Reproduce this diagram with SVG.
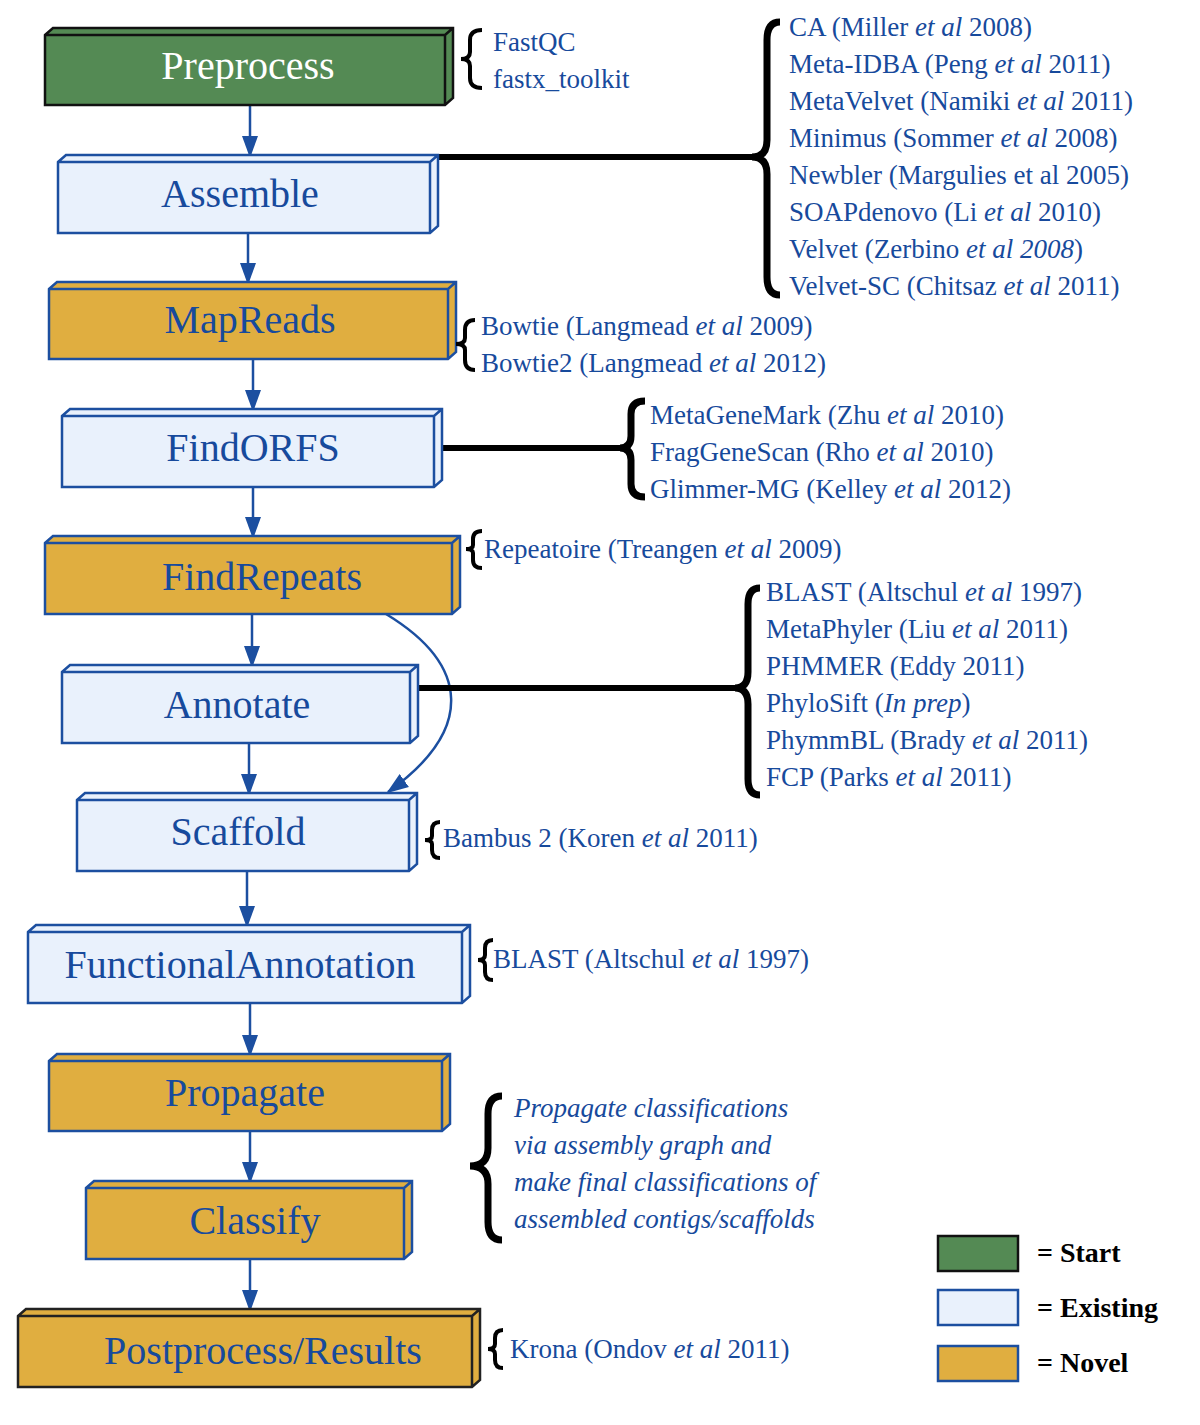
<svg xmlns="http://www.w3.org/2000/svg" width="1200" height="1425" viewBox="0 0 1200 1425">
<style>
.f{stroke-width:2.5}
.g{fill:#548a54;stroke:#111}
.e{fill:#e9f1fc;stroke:#1c4fa0}
.n{fill:#e0ae40;stroke:#1c4fa0}
.nl{font-family:"Liberation Serif",serif;font-size:40px;fill:#174a9c;text-anchor:middle}
.t{font-family:"Liberation Serif",serif;font-size:27px;fill:#174a9c}
.br{fill:none;stroke:#000;stroke-width:4}
.bb{fill:none;stroke:#000;stroke-width:7}
.ln{stroke:#000;stroke-width:6}
.ar{stroke:#1c4fa0;stroke-width:2.5;fill:none}
.lg{font-family:"Liberation Serif",serif;font-size:28px;font-weight:bold;fill:#000}
</style>
<defs><marker id="a" markerWidth="10" markerHeight="10" refX="9" refY="5" orient="auto" markerUnits="userSpaceOnUse" viewBox="0 0 10 10"><path d="M0,0 L10,5 L0,10z" fill="#1c4fa0"/></marker>
<marker id="ah" markerWidth="22" markerHeight="22" refX="20" refY="11" orient="auto" markerUnits="userSpaceOnUse" viewBox="0 0 22 22"><path d="M0,3 L22,11 L0,19z" fill="#1c4fa0"/></marker></defs>
<g id="connectors">
<line class="ar" x1="250" y1="106" x2="250" y2="156" marker-end="url(#ah)"/>
<line class="ar" x1="248" y1="234" x2="248" y2="283" marker-end="url(#ah)"/>
<line class="ar" x1="253" y1="360" x2="253" y2="410" marker-end="url(#ah)"/>
<line class="ar" x1="253" y1="488" x2="253" y2="537" marker-end="url(#ah)"/>
<line class="ar" x1="252" y1="615" x2="252" y2="666" marker-end="url(#ah)"/>
<line class="ar" x1="249" y1="744" x2="249" y2="794" marker-end="url(#ah)"/>
<line class="ar" x1="247" y1="872" x2="247" y2="926" marker-end="url(#ah)"/>
<line class="ar" x1="250" y1="1004" x2="250" y2="1055" marker-end="url(#ah)"/>
<line class="ar" x1="250" y1="1132" x2="250" y2="1182" marker-end="url(#ah)"/>
<line class="ar" x1="250" y1="1260" x2="250" y2="1310" marker-end="url(#ah)"/>
<path class="ar" d="M386,614 C470,665 475,730 388,792" marker-end="url(#ah)"/>
<line class="ln" x1="430" y1="157" x2="758" y2="157"/>
<line class="ln" x1="440" y1="448" x2="622" y2="448"/>
<line class="ln" x1="415" y1="688" x2="740" y2="688"/>
</g>
<g id="preprocess" class="f"><path class="g" d="M45,35 L53,28 L453,28 L453,98 L445,105 L45,105Z M445,35 L453,28 M45,35 L445,35 L445,105"/><text class="nl" x="248" y="79" style="fill:#fff">Preprocess</text></g>
<g id="assemble" class="f"><path class="e" d="M58,162 L66,155 L438,155 L438,226 L430,233 L58,233Z M430,162 L438,155 M58,162 L430,162 L430,233"/><text class="nl" x="240" y="207">Assemble</text></g>
<g id="mapreads" class="f"><path class="n" d="M49,289 L57,282 L456,282 L456,352 L448,359 L49,359Z M448,289 L456,282 M49,289 L448,289 L448,359"/><text class="nl" x="250" y="333">MapReads</text></g>
<g id="findorfs" class="f"><path class="e" d="M62,416 L70,409 L442,409 L442,480 L434,487 L62,487Z M434,416 L442,409 M62,416 L434,416 L434,487"/><text class="nl" x="253" y="461">FindORFS</text></g>
<g id="findrepeats" class="f"><path class="n" d="M45,543 L53,536 L460,536 L460,607 L452,614 L45,614Z M452,543 L460,536 M45,543 L452,543 L452,614"/><text class="nl" x="262" y="590">FindRepeats</text></g>
<g id="annotate" class="f"><path class="e" d="M62,672 L70,665 L418,665 L418,736 L410,743 L62,743Z M410,672 L418,665 M62,672 L410,672 L410,743"/><text class="nl" x="237" y="718">Annotate</text></g>
<g id="scaffold" class="f"><path class="e" d="M77,800 L85,793 L417,793 L417,864 L409,871 L77,871Z M409,800 L417,793 M77,800 L409,800 L409,871"/><text class="nl" x="238" y="845">Scaffold</text></g>
<g id="functionalannotation" class="f"><path class="e" d="M28,932 L36,925 L470,925 L470,996 L462,1003 L28,1003Z M462,932 L470,925 M28,932 L462,932 L462,1003"/><text class="nl" x="240" y="978">FunctionalAnnotation</text></g>
<g id="propagate" class="f"><path class="n" d="M49,1061 L57,1054 L450,1054 L450,1124 L442,1131 L49,1131Z M442,1061 L450,1054 M49,1061 L442,1061 L442,1131"/><text class="nl" x="245" y="1106">Propagate</text></g>
<g id="classify" class="f"><path class="n" d="M86,1188 L94,1181 L412,1181 L412,1252 L404,1259 L86,1259Z M404,1188 L412,1181 M86,1188 L404,1188 L404,1259"/><text class="nl" x="255" y="1234">Classify</text></g>
<g id="postprocess" class="f"><path class="n" d="M18,1316 L26,1309 L480,1309 L480,1380 L472,1387 L18,1387Z M472,1316 L480,1309 M18,1316 L472,1316 L472,1387" style="stroke:#222"/><text class="nl" x="263" y="1364">Postprocess/Results</text></g>
<g id="braces">
<path class="br" d="M482,30 Q470,30 470,40 L470,52 Q470,59 461,59 Q470,59 470,66 L470,78 Q470,88 482,88"/>
<path class="bb" d="M780,22 Q767,22 767,40 L767,140 Q767,157 752,157 Q767,157 767,174 L767,277 Q767,295 780,295"/>
<path class="br" d="M475,320 Q465,320 465,330 L465,338 Q465,344 456,344 Q465,344 465,350 L465,360 Q465,370 475,370"/>
<path class="bb" d="M645,401 Q631,401 631,414 L631,436 Q631,448 620,448 Q631,448 631,460 L631,484 Q631,497 645,497"/>
<path class="br" d="M482,531 Q473,531 473,539 L473,545 Q473,549 466,549 Q473,549 473,553 L473,560 Q473,568 482,568"/>
<path class="bb" d="M760,588 Q748,588 748,604 L748,672 Q748,688 735,688 Q748,688 748,704 L748,779 Q748,795 760,795"/>
<path class="br" d="M440,822 Q432,822 432,830 L432,836 Q432,840 425,840 Q432,840 432,844 L432,850 Q432,858 440,858"/>
<path class="br" d="M493,940 Q485,940 485,948 L485,955 Q485,960 478,960 Q485,960 485,965 L485,972 Q485,980 493,980"/>
<path class="bb" d="M502,1096 Q488,1096 488,1114 L488,1148 Q488,1166 470,1166 Q488,1166 488,1184 L488,1222 Q488,1240 502,1240"/>
<path class="br" d="M503,1330 Q495,1330 495,1338 L495,1344 Q495,1349 488,1349 Q495,1349 495,1354 L495,1360 Q495,1368 503,1368"/>
</g>
<g id="labels" class="t">
<text x="493" y="51">FastQC</text><text x="493" y="88">fastx_toolkit</text>
<text x="789" y="36">CA (Miller <tspan font-style="italic">et al</tspan> 2008)</text>
<text x="789" y="73">Meta-IDBA (Peng <tspan font-style="italic">et al</tspan> 2011)</text>
<text x="789" y="110">MetaVelvet (Namiki <tspan font-style="italic">et al</tspan> 2011)</text>
<text x="789" y="147">Minimus (Sommer <tspan font-style="italic">et al</tspan> 2008)</text>
<text x="789" y="184">Newbler (Margulies et al 2005)</text>
<text x="789" y="221">SOAPdenovo (Li <tspan font-style="italic">et al</tspan> 2010)</text>
<text x="789" y="258">Velvet (Zerbino <tspan font-style="italic">et al 2008</tspan>)</text>
<text x="789" y="295">Velvet-SC (Chitsaz <tspan font-style="italic">et al</tspan> 2011)</text>
<text x="481" y="335">Bowtie (Langmead <tspan font-style="italic">et al</tspan> 2009)</text>
<text x="481" y="372">Bowtie2 (Langmead <tspan font-style="italic">et al</tspan> 2012)</text>
<text x="650" y="424">MetaGeneMark (Zhu <tspan font-style="italic">et al</tspan> 2010)</text>
<text x="650" y="461">FragGeneScan (Rho <tspan font-style="italic">et al</tspan> 2010)</text>
<text x="650" y="498">Glimmer-MG (Kelley <tspan font-style="italic">et al</tspan> 2012)</text>
<text x="484" y="558">Repeatoire (Treangen <tspan font-style="italic">et al</tspan> 2009)</text>
<text x="766" y="601">BLAST (Altschul <tspan font-style="italic">et al</tspan> 1997)</text>
<text x="766" y="638">MetaPhyler (Liu <tspan font-style="italic">et al</tspan> 2011)</text>
<text x="766" y="675">PHMMER (Eddy 2011)</text>
<text x="766" y="712">PhyloSift (<tspan font-style="italic">In prep</tspan>)</text>
<text x="766" y="749">PhymmBL (Brady <tspan font-style="italic">et al</tspan> 2011)</text>
<text x="766" y="786">FCP (Parks <tspan font-style="italic">et al</tspan> 2011)</text>
<text x="443" y="847">Bambus 2 (Koren <tspan font-style="italic">et al</tspan> 2011)</text>
<text x="493" y="968">BLAST (Altschul <tspan font-style="italic">et al</tspan> 1997)</text>
<g font-style="italic"><text x="514" y="1117">Propagate classifications</text><text x="514" y="1154">via assembly graph and</text><text x="514" y="1191">make final classifications of</text><text x="514" y="1228">assembled contigs/scaffolds</text></g>
<text x="510" y="1358">Krona (Ondov <tspan font-style="italic">et al</tspan> 2011)</text>
</g>
<g id="legend">
<rect x="938" y="1236" width="80" height="35" fill="#548a54" stroke="#111" stroke-width="2.5"/>
<rect x="938" y="1290" width="80" height="35" fill="#e9f1fc" stroke="#1c4fa0" stroke-width="2.5"/>
<rect x="938" y="1346" width="80" height="35" fill="#e0ae40" stroke="#1c4fa0" stroke-width="2.5"/>
<text class="lg" x="1037" y="1262">= Start</text>
<text class="lg" x="1037" y="1317">= Existing</text>
<text class="lg" x="1037" y="1372">= Novel</text>
</g>
</svg>
